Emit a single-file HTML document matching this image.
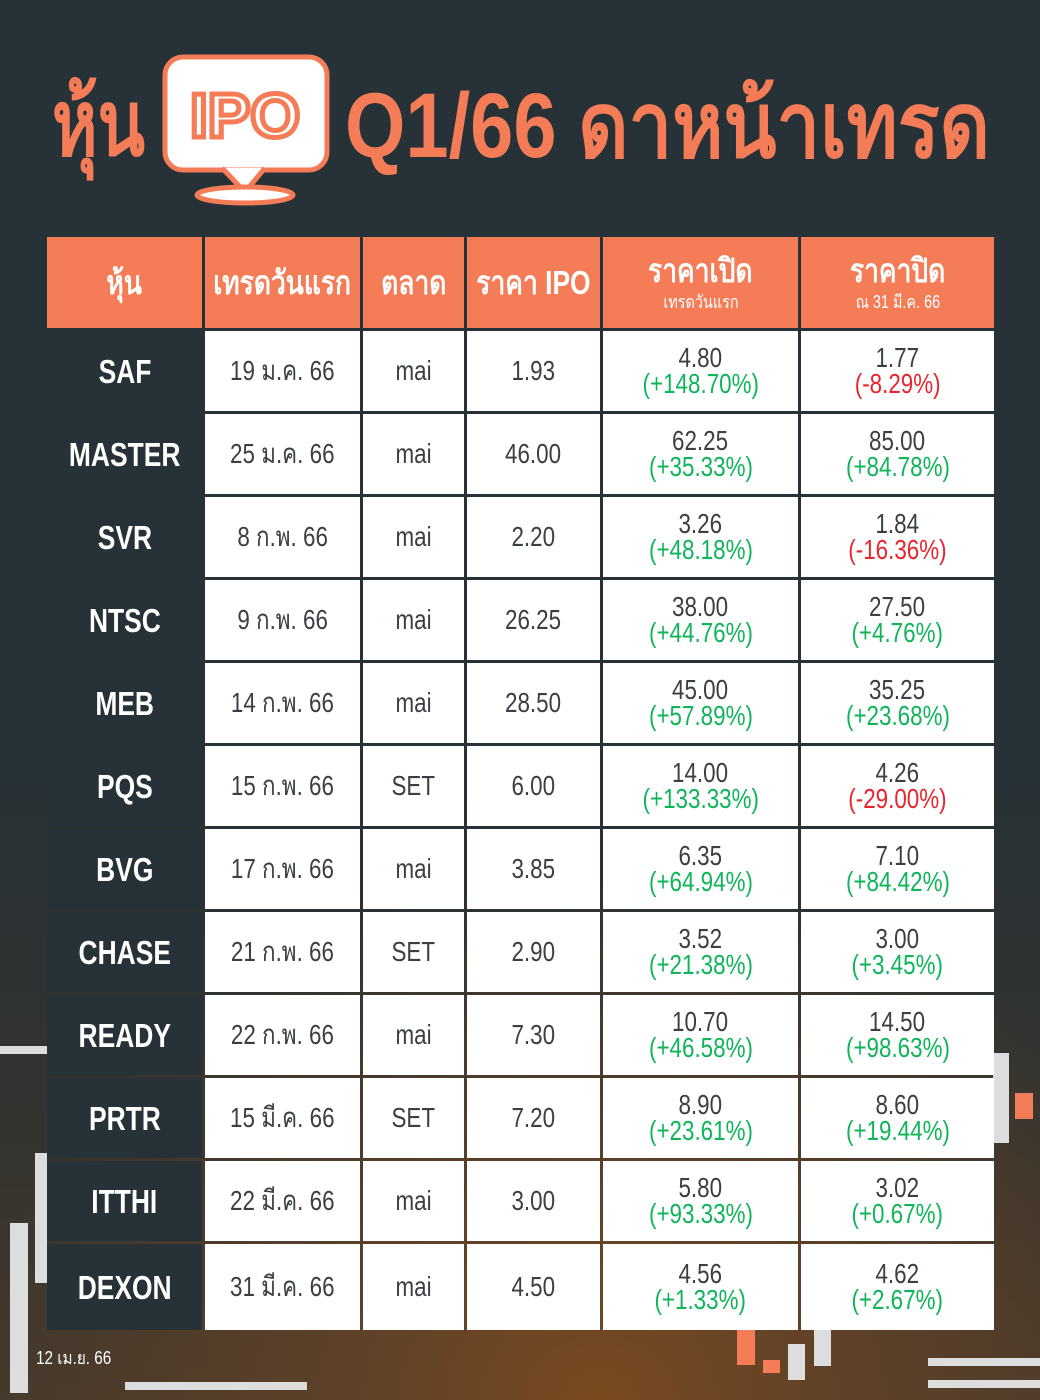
<!DOCTYPE html>
<html><head><meta charset="utf-8">
<style>
html,body{margin:0;padding:0}
body{width:1040px;height:1400px;position:relative;overflow:hidden;
background:radial-gradient(ellipse 620px 520px at 600px 1400px,#7a4a20 0%,#5e4128 40%,rgba(38,50,56,0) 100%),linear-gradient(#263238 0%,#273236 55%,#33332f 80%,#45392c 100%);
font-family:"Liberation Sans","DejaVu Sans",sans-serif;}
.grid{position:absolute;left:47px;top:237px;display:grid;
grid-template-columns:155px 155px 101px 133px 195px 193px;
grid-template-rows:91px repeat(11,80px) 86px;gap:3px;}
.grid>div{display:flex;flex-direction:column;align-items:center;justify-content:center;text-align:center;line-height:1;white-space:nowrap}
.grid span,.grid small,.grid b{display:block;transform:scaleX(.8)}
.h{background:#f47c56;color:#fff;font-size:33px;font-weight:bold}
.h small{font-size:18px;font-weight:normal;margin-top:6px}
.k{background:#263238;color:#fff;font-size:33px;font-weight:bold}
.c{background:#fff;color:#3a3f44;font-size:28px}
.c .g{color:#10b55a}.c .r{color:#e8252d}
.c span{line-height:26px}
.deco{position:absolute;background:#ddd}
</style></head><body>
<svg width="1040" height="230" style="position:absolute;left:0;top:0">
<text x="52" y="155" font-family="Liberation Sans,sans-serif" font-weight="bold" font-size="92" fill="#f47c56" textLength="93" lengthAdjust="spacingAndGlyphs">หุ้น</text>
<rect x="165" y="57" width="162" height="113" rx="18" fill="#fff" stroke="#f47c56" stroke-width="5"/>
<path d="M222 168 L245 192 L265 168" fill="#fff" stroke="#f47c56" stroke-width="5"/>
<ellipse cx="245" cy="195" rx="48" ry="8" fill="#fff" stroke="#f47c56" stroke-width="5"/>
<text x="190" y="137" font-family="Liberation Sans,sans-serif" font-weight="bold" font-size="62" fill="#fff" stroke="#f47c56" stroke-width="5" textLength="110" lengthAdjust="spacingAndGlyphs">IPO</text>
<text x="345" y="157" font-family="Liberation Sans,sans-serif" font-weight="bold" font-size="92" fill="#f47c56" textLength="645" lengthAdjust="spacingAndGlyphs">Q1/66 ดาหน้าเทรด</text>
</svg>
<div class="deco" style="left:0;top:1046px;width:47px;height:8px"></div>
<div class="deco" style="left:10px;top:1223px;width:18px;height:170px"></div>
<div class="deco" style="left:35px;top:1153px;width:12px;height:130px"></div>
<div class="deco" style="left:125px;top:1382px;width:182px;height:8px"></div>
<div class="deco" style="left:928px;top:1358px;width:112px;height:8px"></div>
<div class="deco" style="left:928px;top:1380px;width:112px;height:8px"></div>
<div class="deco" style="left:993px;top:1053px;width:16px;height:90px"></div>
<div class="deco" style="left:1015px;top:1093px;width:18px;height:26px;background:#f47c56"></div>
<div class="deco" style="left:737px;top:1330px;width:18px;height:35px;background:#f47c56"></div>
<div class="deco" style="left:763px;top:1360px;width:17px;height:13px;background:#f47c56"></div>
<div class="deco" style="left:788px;top:1344px;width:17px;height:36px"></div>
<div class="deco" style="left:814px;top:1330px;width:17px;height:36px"></div>
<div style="position:absolute;left:36px;top:1343px;color:#fff;font-size:18px;transform:scaleX(.85);transform-origin:left">12 เม.ย. 66</div>
<div class="grid">
<div class="h"><span>หุ้น</span></div><div class="h"><span>เทรดวันแรก</span></div><div class="h"><span>ตลาด</span></div><div class="h"><span>ราคา IPO</span></div>
<div class="h"><span>ราคาเปิด</span><small>เทรดวันแรก</small></div><div class="h"><span>ราคาปิด</span><small>ณ 31 มี.ค. 66</small></div>

<div class="k"><b>SAF</b></div><div class="c"><span>19 ม.ค. 66</span></div><div class="c"><span>mai</span></div><div class="c"><span>1.93</span></div><div class="c"><span>4.80</span><span class="g">(+148.70%)</span></div><div class="c"><span>1.77</span><span class="r">(-8.29%)</span></div>
<div class="k"><b>MASTER</b></div><div class="c"><span>25 ม.ค. 66</span></div><div class="c"><span>mai</span></div><div class="c"><span>46.00</span></div><div class="c"><span>62.25</span><span class="g">(+35.33%)</span></div><div class="c"><span>85.00</span><span class="g">(+84.78%)</span></div>
<div class="k"><b>SVR</b></div><div class="c"><span>8 ก.พ. 66</span></div><div class="c"><span>mai</span></div><div class="c"><span>2.20</span></div><div class="c"><span>3.26</span><span class="g">(+48.18%)</span></div><div class="c"><span>1.84</span><span class="r">(-16.36%)</span></div>
<div class="k"><b>NTSC</b></div><div class="c"><span>9 ก.พ. 66</span></div><div class="c"><span>mai</span></div><div class="c"><span>26.25</span></div><div class="c"><span>38.00</span><span class="g">(+44.76%)</span></div><div class="c"><span>27.50</span><span class="g">(+4.76%)</span></div>
<div class="k"><b>MEB</b></div><div class="c"><span>14 ก.พ. 66</span></div><div class="c"><span>mai</span></div><div class="c"><span>28.50</span></div><div class="c"><span>45.00</span><span class="g">(+57.89%)</span></div><div class="c"><span>35.25</span><span class="g">(+23.68%)</span></div>
<div class="k"><b>PQS</b></div><div class="c"><span>15 ก.พ. 66</span></div><div class="c"><span>SET</span></div><div class="c"><span>6.00</span></div><div class="c"><span>14.00</span><span class="g">(+133.33%)</span></div><div class="c"><span>4.26</span><span class="r">(-29.00%)</span></div>
<div class="k"><b>BVG</b></div><div class="c"><span>17 ก.พ. 66</span></div><div class="c"><span>mai</span></div><div class="c"><span>3.85</span></div><div class="c"><span>6.35</span><span class="g">(+64.94%)</span></div><div class="c"><span>7.10</span><span class="g">(+84.42%)</span></div>
<div class="k"><b>CHASE</b></div><div class="c"><span>21 ก.พ. 66</span></div><div class="c"><span>SET</span></div><div class="c"><span>2.90</span></div><div class="c"><span>3.52</span><span class="g">(+21.38%)</span></div><div class="c"><span>3.00</span><span class="g">(+3.45%)</span></div>
<div class="k"><b>READY</b></div><div class="c"><span>22 ก.พ. 66</span></div><div class="c"><span>mai</span></div><div class="c"><span>7.30</span></div><div class="c"><span>10.70</span><span class="g">(+46.58%)</span></div><div class="c"><span>14.50</span><span class="g">(+98.63%)</span></div>
<div class="k"><b>PRTR</b></div><div class="c"><span>15 มี.ค. 66</span></div><div class="c"><span>SET</span></div><div class="c"><span>7.20</span></div><div class="c"><span>8.90</span><span class="g">(+23.61%)</span></div><div class="c"><span>8.60</span><span class="g">(+19.44%)</span></div>
<div class="k"><b>ITTHI</b></div><div class="c"><span>22 มี.ค. 66</span></div><div class="c"><span>mai</span></div><div class="c"><span>3.00</span></div><div class="c"><span>5.80</span><span class="g">(+93.33%)</span></div><div class="c"><span>3.02</span><span class="g">(+0.67%)</span></div>
<div class="k"><b>DEXON</b></div><div class="c"><span>31 มี.ค. 66</span></div><div class="c"><span>mai</span></div><div class="c"><span>4.50</span></div><div class="c"><span>4.56</span><span class="g">(+1.33%)</span></div><div class="c"><span>4.62</span><span class="g">(+2.67%)</span></div>
</div>
</body></html>
